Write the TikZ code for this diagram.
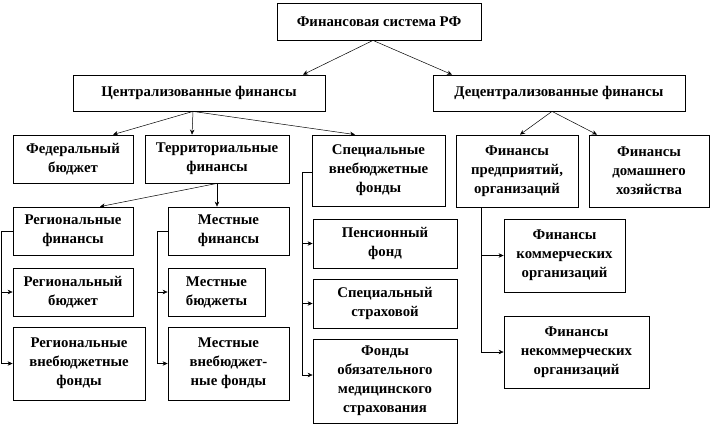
\documentclass[tikz,border=0pt]{standalone}
\usepackage{fontspec}
\setmainfont{Liberation Serif}
\usetikzlibrary{arrows.meta,calc}
\tikzset{
  box/.style={draw=black, line width=0.8pt, inner sep=1pt, align=center,
    font=\bfseries\fontsize{14.8}{19}\selectfont},
  conn/.style={draw=black, line width=0.5pt, -{Stealth[length=5pt,width=4.5pt]}},
  line/.style={draw=black, line width=0.5pt}
}
\begin{document}
\begin{tikzpicture}[x=1pt,y=-1pt]
\useasboundingbox (0,0) rectangle (712,426);
\node[box, minimum width=204, minimum height=37] (top) at (379,21.5) {Финансовая система РФ};
\node[box, minimum width=252, minimum height=36] (cen) at (199,93) {Централизованные финансы};
\node[box, minimum width=252, minimum height=36] (dec) at (559,93) {Децентрализованные финансы};
\node[box, minimum width=120, minimum height=48] (fed) at (73,159) {Федеральный\\бюджет};
\node[box, minimum width=144, minimum height=48] (ter) at (217,159) {Территориальные\\финансы};
\node[box, minimum width=133, minimum height=71] (spec) at (378.5,170.5) {Специальные\\внебюджетные\\фонды};
\node[box, minimum width=122, minimum height=72] (ent) at (517,171) {Финансы\\предприятий,\\организаций};
\node[box, minimum width=120, minimum height=72] (home) at (649,171) {Финансы\\домашнего\\хозяйства};
\node[box, minimum width=120, minimum height=48] (regfin) at (73,231) {Региональные\\финансы};
\node[box, minimum width=120, minimum height=48] (regbud) at (73,292) {Региональный\\бюджет};
\node[box, minimum width=132, minimum height=73] (regfund) at (79,363.5) {Региональные\\внебюджетные\\фонды};
\node[box, minimum width=121, minimum height=48] (locfin) at (228.5,231) {Местные\\финансы};
\node[box, minimum width=97, minimum height=48] (locbud) at (216.5,292) {Местные\\бюджеты};
\node[box, minimum width=121, minimum height=73] (locfund) at (228.5,363.5) {Местные\\внебюджет-\\ные фонды};
\node[box, minimum width=144, minimum height=49] (pens) at (385,243.5) {Пенсионный\\фонд};
\node[box, minimum width=144, minimum height=49] (strah) at (385,303.5) {Специальный\\страховой};
\node[box, minimum width=144, minimum height=84] (oms) at (385,381) {Фонды\\обязательного\\медицинского\\страхования};
\node[box, minimum width=121, minimum height=73] (comm) at (564.5,255.5) {Финансы\\коммерческих\\организаций};
\node[box, minimum width=145, minimum height=72] (ncomm) at (576.5,352) {Финансы\\некоммерческих\\организаций};
% top level
\draw[conn] ([xshift=-6pt]top.south) -- ([xshift=104pt]cen.north);
\draw[conn] ([xshift=-6pt]top.south) -- ([xshift=-107pt]dec.north);
% centralized
\draw[conn] ([xshift=-6pt]cen.south) -- ([xshift=40pt]fed.north);
\draw[conn] ([xshift=-6pt]cen.south) -- ([xshift=-25pt]ter.north);
\draw[conn] ([xshift=-6pt]cen.south) -- ([xshift=-23.5pt]spec.north);
% decentralized
\draw[conn] ([xshift=-7pt]dec.south) -- ([xshift=3pt]ent.north);
\draw[conn] ([xshift=-7pt]dec.south) -- ([xshift=-52pt]home.north);
% territorial
\draw[conn] (ter.south) -- ([xshift=27pt]regfin.north);
\draw[conn] (ter.south) -- ([xshift=-11.5pt]locfin.north);
% regional
\coordinate (rl) at (1,0);
\draw[conn] (regfin.west) -| (rl |- regfund.west) -- (regfund.west);
\draw[conn] (rl |- regbud.west) -- (regbud.west);
% local
\coordinate (ll) at (157,0);
\draw[conn] (locfin.west) -| (ll |- locfund.west) -- (locfund.west);
\draw[conn] (ll |- locbud.west) -- (locbud.west);
% special funds
\coordinate (sl) at (302,0);
\coordinate (spout) at ([yshift=-1.5pt]spec.west);
\coordinate (omsin) at ([yshift=6pt]oms.west);
\draw[conn] (spout) -| (sl |- omsin) -- (omsin);
\draw[conn] (sl |- pens.west) -- (pens.west);
\draw[conn] (sl |- strah.west) -- (strah.west);
% enterprises
\coordinate (el) at (481,0);
\draw[conn] (el |- ent.south) -- (el |- ncomm.west) -- (ncomm.west);
\draw[conn] (el |- comm.west) -- (comm.west);
\end{tikzpicture}
\end{document}
